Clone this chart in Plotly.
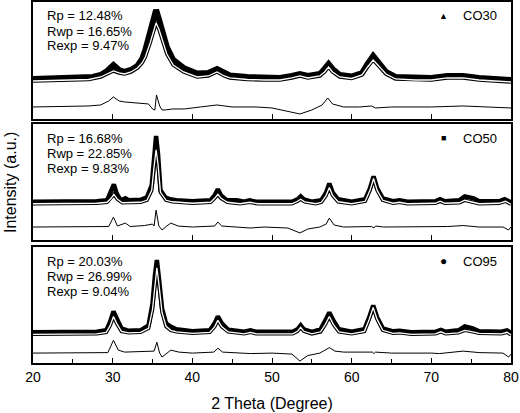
import plotly.graph_objs as go

# 2 theta (deg) / intensity (a.u.), one set per sample
co30_obs_x = [20, 23, 26, 27.5, 28.5, 29.3, 30.1, 30.8, 31.5, 32.3, 33.1, 33.7, 34.1, 34.7, 35.1, 35.45, 35.8, 36.2, 36.8, 37.6, 38.9, 40.6, 42.0, 43.1, 44.0, 44.7, 46.9, 49, 51, 52.5, 53.5, 54.5, 56.0, 56.6, 57.1, 57.6, 58.5, 60, 61.3, 62.0, 62.7, 63.4, 64.3, 65.5, 68, 70, 72, 74, 76, 78, 79.5, 80]
co30_obs_y = [40, 40.5, 41.5, 42, 44, 48, 54, 49, 47, 49, 53, 60, 69, 86, 100, 109, 100, 89, 72, 59, 51, 45.5, 46, 50, 46, 43.5, 42, 41, 41, 43, 45, 43, 45, 50, 55, 50, 44, 42.5, 46, 55, 63, 56, 47, 42, 41, 41, 43, 43, 41, 40, 40.5, 39]
co30_calc_x = [20, 24, 27, 28.5, 29.3, 30.1, 30.8, 31.5, 32.3, 33.1, 33.7, 34.1, 34.7, 35.1, 35.45, 35.8, 36.2, 36.8, 37.6, 38.9, 40.6, 42.0, 43.1, 44.0, 44.7, 46.9, 49, 51, 52.5, 53.5, 54.5, 56, 56.6, 57.1, 57.6, 58.5, 60, 61.3, 62.0, 62.7, 63.4, 64.3, 65.5, 68, 70, 72, 74, 76, 78, 80]
co30_calc_y = [38, 38.5, 39.5, 42, 45, 48, 46, 45, 47, 51, 56, 62, 76, 88, 96, 90, 80, 65, 54, 47, 42, 43, 47, 43, 41, 39.5, 39, 39, 41, 43, 41, 43, 47, 52, 47, 42, 40.5, 44, 52, 59, 53, 45, 40, 39, 39, 41, 41, 39, 38, 37]
co30_diff_x = [20, 24, 27, 28.5, 29.5, 30.1, 30.8, 31.5, 33, 34.5, 35.0, 35.3, 35.5, 35.9, 36.2, 36.6, 37.5, 39, 41, 43.1, 45, 48, 50, 52, 53.5, 55, 56.3, 57.0, 57.6, 59, 61, 62.5, 63, 65, 70, 74, 78, 80]
co30_diff_y = [12, 12.5, 13, 14, 18, 22, 18, 17, 16, 15, 10, 9, 24, 13, 9, 9, 10, 10, 12, 14, 12, 12, 11, 8, 5, 9, 14, 21, 15, 12, 12, 13, 11, 12, 12, 13, 12, 11]

co50_obs_x = [20, 25, 28, 29.3, 29.8, 30.15, 30.5, 31.0, 31.6, 32.0, 33.5, 34.3, 34.9, 35.2, 35.45, 35.7, 36.0, 36.6, 37.2, 38, 40, 42.3, 42.8, 43.2, 43.6, 44.3, 45.6, 46.5, 47.2, 48, 52.5, 53.2, 53.6, 54.0, 55, 56.2, 56.8, 57.2, 57.6, 58.3, 60, 61.7, 62.3, 62.75, 63.2, 63.9, 65.2, 66, 67, 70.5, 71.1, 71.7, 73.5, 74.2, 75.3, 76, 78.5, 79.2, 80]
co50_obs_y = [38.5, 38.5, 39, 40, 48, 56, 47, 40, 42, 40, 40.5, 43, 55, 85, 105, 86, 50, 43, 41, 40, 39, 40, 45, 51, 45, 40, 40, 38.5, 40, 38.5, 38.5, 41, 44, 41, 38.5, 40, 48, 57, 48, 41, 38.5, 41, 52, 64, 52, 42, 39, 40, 38.5, 39, 41, 39, 40, 44, 42, 39, 39, 41, 38]
co50_calc_x = [20, 28, 29.3, 29.8, 30.15, 30.6, 31.2, 33.5, 34.3, 34.9, 35.2, 35.45, 35.7, 36.0, 36.7, 37.5, 40, 42.3, 42.8, 43.2, 43.6, 44.4, 46, 47.2, 48.2, 52.5, 53.2, 53.6, 54.1, 55.5, 56.2, 56.8, 57.2, 57.6, 58.3, 60, 61.7, 62.3, 62.75, 63.2, 63.9, 65.2, 66, 67, 70.5, 71.1, 71.7, 73.5, 74.2, 75, 76, 78.5, 79.3, 80]
co50_calc_y = [36.5, 37, 38, 42, 46, 41, 37.5, 38, 40, 50, 74, 91, 76, 48, 40, 38.5, 37, 38, 42, 46, 42, 38, 36.5, 38, 36.5, 36.5, 39, 41, 38.5, 36.5, 38, 45, 53, 45, 38.5, 36.5, 39, 50, 62, 50, 40, 37, 38, 36.5, 37, 39, 37, 37.5, 40, 38.5, 36.5, 37, 39, 36]
co50_diff_x = [20, 29.5, 30.1, 30.6, 31.6, 32.2, 34, 35.0, 35.2, 35.45, 35.8, 36.2, 36.8, 37.3, 38.2, 40, 42.8, 43.2, 43.7, 46, 47.3, 49, 52, 53.5, 54.5, 56, 56.8, 57.2, 57.8, 59, 62.5, 62.8, 63, 64, 70, 72, 74, 76, 79, 79.7, 80]
co50_diff_y = [13, 13.5, 23, 14, 17, 13.5, 14.5, 16, 14, 30, 14, 10, 14, 17, 14, 13, 14, 18, 14, 13, 12, 13, 12, 7, 11, 13, 16, 22, 15, 13, 13.5, 12, 14, 13, 13, 13.5, 14.5, 13, 13, 10, 13]

co95_obs_x = [20, 25, 28, 29.2, 29.7, 30.1, 30.5, 31.1, 32, 33.5, 34.5, 35.0, 35.3, 35.55, 35.8, 36.2, 36.7, 37.2, 38, 40, 42.2, 42.8, 43.2, 43.7, 44.5, 46.5, 47.3, 48, 52.6, 53.2, 53.6, 54.0, 55, 56.1, 56.7, 57.2, 57.7, 58.4, 60, 61.6, 62.2, 62.7, 63.2, 63.9, 65.2, 66, 67.5, 70.5, 71.2, 71.8, 73.4, 74.2, 75.2, 76, 78.8, 79.5, 80]
co95_obs_y = [31, 31, 31.5, 33, 42, 52, 44, 35, 32.5, 33, 38, 60, 88, 104, 86, 55, 40, 37, 34, 32, 33, 40, 47, 40, 33.5, 31.5, 33, 31.5, 31.5, 34, 38, 34, 31.5, 34, 43, 51, 43, 34, 31.5, 34, 46, 58, 46, 35, 32, 32.5, 31, 31.5, 33.5, 31.5, 33, 37, 35, 32, 31.5, 33, 30.5]
co95_calc_x = [20, 28, 29.2, 29.7, 30.1, 30.5, 31.1, 32, 33.5, 34.5, 35.0, 35.3, 35.55, 35.8, 36.2, 36.7, 37.3, 38, 40, 42.2, 42.8, 43.2, 43.7, 44.5, 46.5, 47.3, 48, 52.6, 53.2, 53.6, 54.0, 55, 56.1, 56.7, 57.2, 57.7, 58.4, 60, 61.6, 62.2, 62.7, 63.2, 63.9, 65.2, 66, 67.5, 70.5, 71.2, 71.8, 73.4, 74.2, 75.2, 76, 78.8, 79.5, 80]
co95_calc_y = [29, 29.5, 31, 38, 47, 40, 32, 30.5, 31, 35, 54, 80, 96, 80, 51, 37, 33, 31.5, 30, 31, 36.5, 43, 36.5, 31.5, 29.5, 31, 29.5, 29.5, 32, 36, 32, 29.5, 31.5, 39, 47, 39, 31.5, 29.5, 32, 44, 56, 44, 33, 30, 30.5, 29, 29.5, 31.5, 29.5, 30.5, 33, 31.5, 30, 29.5, 31, 28.5]
co95_diff_x = [20, 29.4, 30.1, 30.7, 31.5, 34.5, 35.2, 35.55, 35.9, 36.2, 36.8, 37.3, 38.3, 40, 42.7, 43.2, 43.8, 46, 47.3, 50, 52.5, 53.5, 54.5, 56, 56.7, 57.2, 57.9, 59, 62.6, 62.8, 63, 65, 70, 71, 74, 76, 79, 79.7, 80]
co95_diff_y = [10, 10.5, 23, 13, 11, 11.5, 12, 21, 10, 6, 10, 13, 11, 10, 11, 15, 11, 10, 9.5, 10, 9, 2, 7.5, 10, 13, 15.5, 12, 11, 11, 9.5, 11, 10, 10, 9.5, 12, 10.5, 10, 6, 9]

samples = ['CO30', 'CO50', 'CO95']
symbols = ['▲', '■', '●']
rp = ['12.48%', '16.68%', '20.03%']
rwp = ['16.65%', '22.85%', '26.99%']
rexp = ['9.47%', '9.83%', '9.04%']

panels = [
    (co30_obs_x, co30_obs_y, co30_calc_x, co30_calc_y, co30_diff_x, co30_diff_y),
    (co50_obs_x, co50_obs_y, co50_calc_x, co50_calc_y, co50_diff_x, co50_diff_y),
    (co95_obs_x, co95_obs_y, co95_calc_x, co95_calc_y, co95_diff_x, co95_diff_y),
]

FONT = 'Liberation Sans, Arial, sans-serif'
domains = [[0.676, 1.0], [0.341, 0.662], [0.0, 0.321]]
obs_w = [6, 4.5, 4.5]
sym_size = [9, 9, 12]

fig = go.Figure()
for i, (ox, oy, cx, cy, dx, dy) in enumerate(panels):
    ax = '' if i == 0 else str(i + 1)
    fig.add_trace(go.Scatter(x=ox, y=oy, mode='lines', line=dict(color='black', width=obs_w[i]),
                             xaxis='x' + ax, yaxis='y' + ax))
    fig.add_trace(go.Scatter(x=cx, y=cy, mode='lines', line=dict(color='black', width=3.6),
                             xaxis='x' + ax, yaxis='y' + ax))
    fig.add_trace(go.Scatter(x=cx, y=cy, mode='lines', line=dict(color='white', width=1.3),
                             xaxis='x' + ax, yaxis='y' + ax))
    fig.add_trace(go.Scatter(x=dx, y=dy, mode='lines', line=dict(color='black', width=1),
                             xaxis='x' + ax, yaxis='y' + ax))

    last = (i == 2)
    fig.layout['xaxis' + ax] = dict(
        range=[20, 80], domain=[0, 1], anchor='y' + ax,
        showline=True, linecolor='black', linewidth=1.5, mirror=True,
        ticks='inside', ticklen=5, tickwidth=1, tickcolor='black',
        dtick=10, tick0=20, showgrid=False, zeroline=False,
        showticklabels=last,
        tickfont=dict(family=FONT, size=14, color='black'),
        minor=dict(ticks='inside', ticklen=4, dtick=5, tickcolor='black') if last else None,
        title=dict(text='2 Theta (Degree)', font=dict(family=FONT, size=16, color='black'),
                   standoff=14) if last else None,
        automargin=False,
    )
    fig.layout['yaxis' + ax] = dict(
        range=[0, 117], domain=domains[i], anchor='x' + ax,
        showline=True, linecolor='black', linewidth=1.5, mirror=True,
        showticklabels=False, ticks='', showgrid=False, zeroline=False,
    )

    ytop = domains[i][1]
    for k, line in enumerate(['Rp = ' + rp[i], 'Rwp = ' + rwp[i], 'Rexp = ' + rexp[i]]):
        fig.add_annotation(text=line, xref='paper', yref='paper', x=0.026, y=ytop - (14 + 15 * k) / 361,
                           xanchor='left', yanchor='middle', showarrow=False,
                           font=dict(family=FONT, size=13, color='black'))
    fig.add_annotation(text=symbols[i], xref='paper', yref='paper', x=0.859, y=ytop - 14 / 361,
                       xanchor='center', yanchor='middle', showarrow=False,
                       font=dict(family=FONT, size=sym_size[i], color='black'))
    fig.add_annotation(text=samples[i], xref='paper', yref='paper', x=0.896, y=ytop - 14 / 361,
                       xanchor='left', yanchor='middle', showarrow=False,
                       font=dict(family=FONT, size=13, color='black'))

fig.add_annotation(text='Intensity (a.u.)', xref='paper', yref='paper', x=-0.047, y=0.5,
                   xanchor='center', yanchor='middle', textangle=-90, showarrow=False,
                   font=dict(family=FONT, size=16, color='black'))

fig.update_layout(
    width=520, height=413,
    margin=dict(l=32.5, r=8.5, t=2, b=50, autoexpand=False),
    plot_bgcolor='white', paper_bgcolor='white',
    showlegend=False,
)

fig.write_html("out.html", config={'displayModeBar': False},
               post_script="document.body.style.margin='0';")
